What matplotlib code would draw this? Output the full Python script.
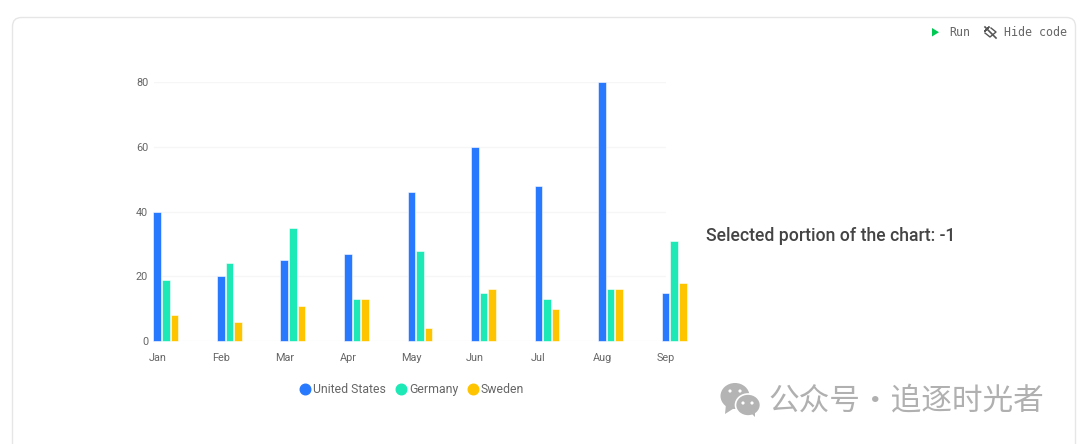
import matplotlib
matplotlib.use("Agg")
import matplotlib.pyplot as plt
from matplotlib.lines import Line2D
from matplotlib.patches import FancyBboxPatch, Polygon, Ellipse, Circle
import numpy as np

months = ["Jan", "Feb", "Mar", "Apr", "May", "Jun", "Jul", "Aug", "Sep"]
united_states = [40, 20, 25, 27, 46, 60, 48, 80, 15]
germany = [19, 24, 35, 13, 28, 15, 13, 16, 31]
sweden = [8, 6, 11, 13, 4, 16, 10, 16, 18]
series_names = ["United States", "Germany", "Sweden"]
y_ticks = [0, 20, 40, 60, 80]
colors = ["#2979ff", "#1de9b6", "#ffc400"]
caption = "Selected portion of the chart: -1"
watermark = "公众号·追逐时光者"

W, H = 1080, 444
plt.rcParams["font.family"] = ["Roboto", "DejaVu Sans"]
fig = plt.figure(figsize=(W / 100, H / 100), dpi=100, facecolor="white")

# page overlay in pixel coordinates
bg = fig.add_axes([0, 0, 1, 1], zorder=0)
bg.set_xlim(0, W)
bg.set_ylim(H, 0)
bg.axis("off")
bg.add_patch(FancyBboxPatch((12.5, 17.5), 1063, 460, boxstyle="round,pad=0,rounding_size=9",
                            fc="white", ec="#e6e6e6", lw=1.0))

# toolbar
bg.add_patch(Polygon([(932, 28), (932, 36.5), (939, 32.2)], closed=True, fc="#00c853", ec="none"))
bg.text(949, 32, "Run", family="DejaVu Sans Mono", fontsize=8.4, color="#666666", va="center", ha="left")
bg.plot([985, 989, 985], [31, 27, 31], color="#555555", lw=1.0)
bg.plot([985, 996], [27, 38], color="#555555", lw=1.2)
bg.plot([985, 990, 996, 991], [33, 37, 32, 28], color="#555555", lw=1.0)
bg.text(1004, 32, "Hide code", family="DejaVu Sans Mono", fontsize=8.4, color="#666666", va="center", ha="left")

# chart
x0_px, step_px = 157.2, 63.66
left_px, right_px, top_px, bottom_px = 153.5, 665.5, 81.9, 341.3
ax = fig.add_axes([left_px / W, 1 - bottom_px / H, (right_px - left_px) / W, (bottom_px - top_px) / H], zorder=2)
ax.patch.set_alpha(0)
ax.set_xlim((left_px - x0_px) / step_px, (right_px - x0_px) / step_px)
ax.set_ylim(0, 80)
x = np.arange(len(months))
bar_w = 7.6 / step_px
gap = 8.65 / step_px
for i, vals in enumerate([united_states, germany, sweden]):
    ax.bar(x + i * gap, vals, width=bar_w, color=colors[i], edgecolor="white", linewidth=0.4,
           clip_on=False, zorder=3, label=series_names[i])
ax.set_xticks(x, months)
ax.set_yticks(y_ticks)
ax.grid(axis="y", color="#f6f6f6", lw=1.0, zorder=1)
ax.grid(axis="x", visible=False)
for s in ax.spines.values():
    s.set_visible(False)
ax.tick_params(axis="both", length=0, labelsize=7.8, labelcolor="#666666")
ax.tick_params(axis="x", pad=8.5)
ax.tick_params(axis="y", pad=3.8)

handles = [Line2D([], [], ls="none", marker="o", ms=7.6, color=c) for c in colors]
fig.legend(handles, series_names, loc="center", bbox_to_anchor=(410.5 / W, 1 - 389.5 / H), ncol=3, frameon=False,
           fontsize=8.8, labelcolor="#666666", handletextpad=-0.05, columnspacing=0.5, handlelength=1.4,
           borderpad=0, borderaxespad=0)

bg.text(706, 235.5, caption, fontsize=12.7, fontweight="medium", color="#444444", va="center", ha="left")

# watermark
bg.add_patch(Ellipse((735, 396), 29, 26, fc="#b4b4b4", ec="none"))
bg.add_patch(Polygon([(726, 404), (725, 414), (736, 407)], closed=True, fc="#b4b4b4", ec="none"))
bg.add_patch(Ellipse((748, 405), 25, 22, fc="#b4b4b4", ec="white", lw=1.2, zorder=3))
bg.add_patch(Polygon([(751, 413), (755, 417), (755, 410)], closed=True, fc="#b4b4b4", ec="none", zorder=3))
for cx, cy, c in [(730, 391, "white"), (740, 391, "white"), (743, 403, "white"), (752, 403, "white")]:
    bg.add_patch(Circle((cx, cy), 1.6, fc=c, ec="none", zorder=4))
bg.text(768, 401, watermark, family=["Noto Sans CJK SC", "DejaVu Sans"], fontsize=22.1,
        color="#b0b0b0", va="center", ha="left")

fig.savefig("out.png", dpi=100, facecolor="white")
